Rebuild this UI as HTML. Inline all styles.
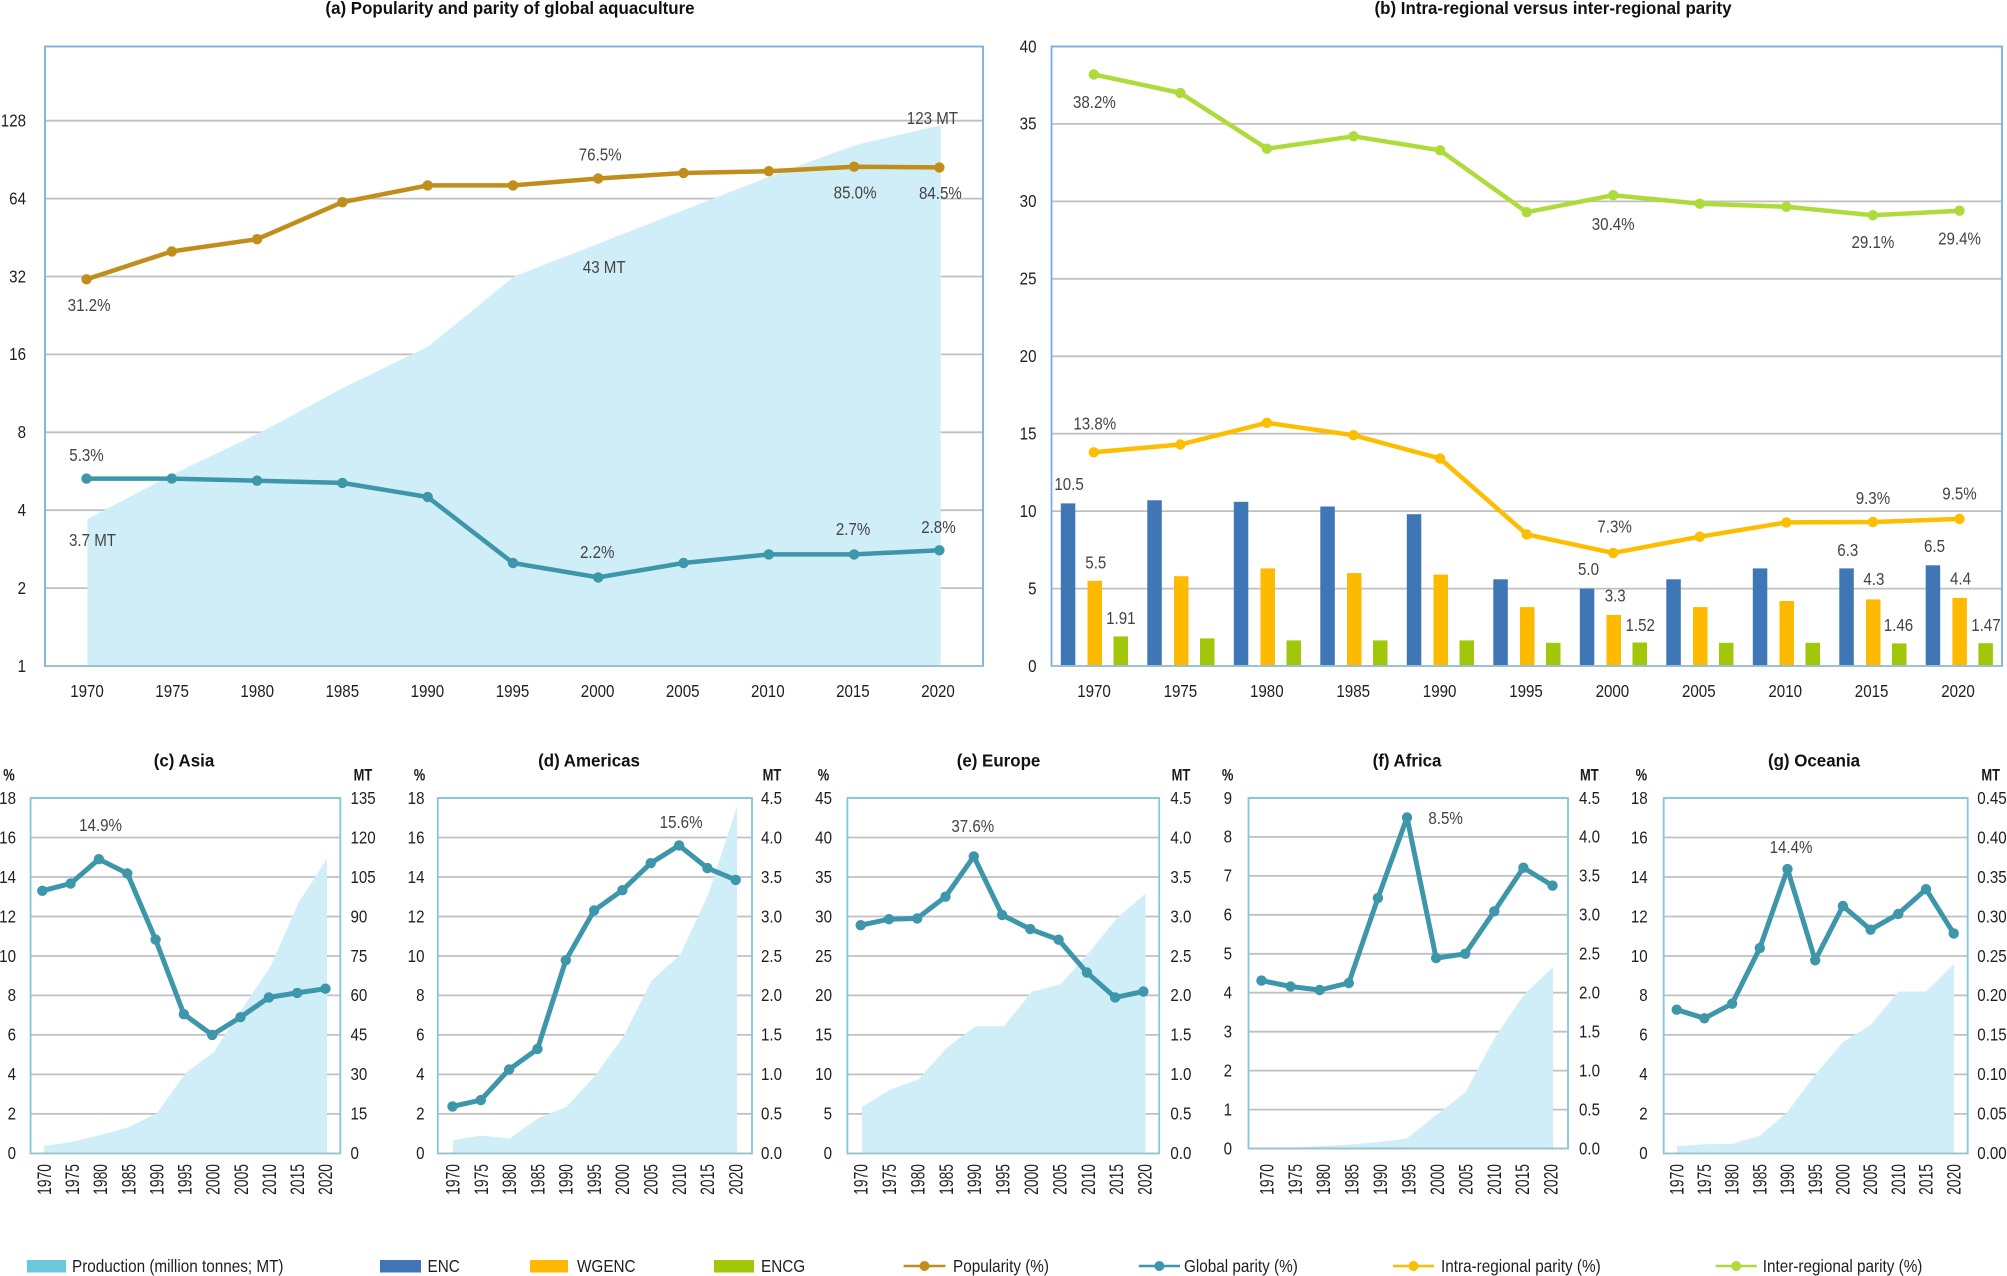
<!DOCTYPE html>
<html lang="en">
<head>
<meta charset="utf-8">
<title>Popularity and parity of aquaculture</title>
<style>
html,body{margin:0;padding:0;background:#fff;}
svg{display:block;font-family:"Liberation Sans",Arial,sans-serif;}
text{fill:#1f1f1f;font-size:18px;}
.val{fill:#444;}
.ttl{font-weight:bold;font-size:18px;fill:#111;}
.unit{font-weight:bold;font-size:17px;fill:#1a1a1a;}
.rot{font-size:19px;}
</style>
</head>
<body>
<svg id="chart" xmlns="http://www.w3.org/2000/svg" width="2007" height="1276" viewBox="0 0 2007 1276"></svg>
<script>
/* ---------- shared categories ---------- */
const years = [1970,1975,1980,1985,1990,1995,2000,2005,2010,2015,2020];

/* ---------- panel (a) ---------- */
const ticksA = [1,2,4,8,16,32,64,128];
const popularity = [31.2,40,44.6,62,72,72,76.5,80.4,81.7,85.0,84.5];
const globalParity = [5.3,5.3,5.2,5.1,4.5,2.5,2.2,2.5,2.7,2.7,2.8];
const globalProduction = [3.7,5.5,7.9,11.9,17.2,32,43,58,78,103,123];

/* ---------- panel (b) ---------- */
const ticksB = [0,5,10,15,20,25,30,35,40];
const enc = [10.5,10.7,10.6,10.3,9.8,5.6,5.0,5.6,6.3,6.3,6.5];
const wgenc = [5.5,5.8,6.3,6.0,5.9,3.8,3.3,3.8,4.2,4.3,4.4];
const encg = [1.91,1.78,1.65,1.65,1.65,1.5,1.52,1.5,1.5,1.46,1.47];
const intraParity = [13.8,14.3,15.7,14.9,13.4,8.5,7.3,8.35,9.27,9.3,9.5];
const interParity = [38.2,37.0,33.4,34.2,33.3,29.3,30.4,29.85,29.65,29.1,29.4];

/* ---------- regional panels ---------- */
const ticksPct18 = [0,2,4,6,8,10,12,14,16,18];
const ticksPct45 = [0,5,10,15,20,25,30,35,40,45];
const ticksPct9 = [0,1,2,3,4,5,6,7,8,9];
const ticksMt135 = [0,15,30,45,60,75,90,105,120,135];
const ticksMt45 = [0.0,0.5,1.0,1.5,2.0,2.5,3.0,3.5,4.0,4.5];
const ticksMt045 = [0.00,0.05,0.10,0.15,0.20,0.25,0.30,0.35,0.40,0.45];

const asiaParity = [13.3,13.67,14.9,14.18,10.83,7.05,6.0,6.9,7.9,8.13,8.34];
const asiaProduction = [2.8,4.4,7,9.9,15.3,30.5,38.5,55,70.9,95.3,111.9];
const americasParity = [2.38,2.7,4.25,5.29,9.78,12.3,13.33,14.7,15.6,14.45,13.85];
const americasProduction = [0.17,0.225,0.19,0.445,0.59,0.98,1.48,2.19,2.515,3.29,4.39];
const europeParity = [28.9,29.66,29.75,32.5,37.6,30.2,28.4,27.06,22.9,19.75,20.5];
const europeProduction = [0.59,0.806,0.94,1.34,1.61,1.61,2.05,2.14,2.54,2.98,3.29];
const africaParity = [4.31,4.16,4.07,4.25,6.43,8.5,4.89,5.0,6.09,7.21,6.75];
const africaProduction = [0,0.01,0.03,0.05,0.08,0.13,0.43,0.72,1.42,1.97,2.33];
const oceaniaParity = [7.28,6.84,7.58,10.4,14.4,9.78,12.53,11.33,12.13,13.38,11.14];
const oceaniaProduction = [0.009,0.0115,0.012,0.0225,0.053,0.10,0.141,0.163,0.205,0.205,0.24];

/* ---------- colours ---------- */
const C = {
  area:'#D0EEF8', areaSwatch:'#6CC8DC', grid:'#C0C0C0',
  pop:'#C18E1C', glob:'#3D96A9', intra:'#FDBD00', inter:'#ADDB3A',
  enc:'#3F76B5', wgenc:'#FDBA00', encg:'#A2C70A',
  frameTop:'#79AEDD', frameSmall:'#7FC9DD', base:'#9CC3CC'
};
const SX = 0.84;      /* the reference type is horizontally condensed */
const SX_TITLE = 0.94;
const SX_UNIT = 0.76;
const SX_ROT = 0.73;

const svg = document.getElementById('chart');
const NS = 'http://www.w3.org/2000/svg';

function mk(tag, attrs, name, parent, txt){
  const el = document.createElementNS(NS, tag);
  for (const k in attrs) el.setAttribute(k, attrs[k]);
  
  
  if (txt !== undefined) el.textContent = txt;
  (parent || svg).appendChild(el);
  return el;
}
function label(x, y, anchor, str, name, parent, cls, sx){
  const attrs = {x:0, y:0, 'text-anchor':anchor, transform:'translate(' + x.toFixed(1) + ',' + y.toFixed(1) + ') scale(' + (sx || SX) + ',1)'};
  if (cls) attrs['class'] = cls;
  return mk('text', attrs, name, parent, str);
}

/* axis functions */
function bandX(first, last){ return i => first + (last - first) * i / (years.length - 1); }
function linY(bottom, top, max){ return v => bottom - (bottom - top) * v / max; }
function logY(bottom, unit){ return v => bottom - unit * Math.log2(v); }

function poly(group, xf, yf, values, colour, name, sw){
  const pts = values.map((v,i) => xf(i).toFixed(1) + ',' + yf(v).toFixed(1)).join(' ');
  mk('polyline', {points:pts, fill:'none', stroke:colour, 'stroke-width':sw, 'stroke-linejoin':'round'}, name + '-line', group);
  values.forEach((v,i) => {
    mk('circle', {cx:xf(i).toFixed(1), cy:yf(v).toFixed(1), r:5.2, fill:colour}, name + '-point-' + years[i], group);
  });
}
function area(group, xf, yf, values, base, name){
  const pts = values.map((v,i) => xf(i).toFixed(1) + ',' + yf(v).toFixed(1));
  pts.unshift(xf(0).toFixed(1) + ',' + base);
  pts.push(xf(values.length - 1).toFixed(1) + ',' + base);
  mk('polygon', {points:pts.join(' '), fill:C.area}, name, group);
}
function grid(group, x0, x1, yf, ticks, base){
  ticks.forEach(t => {
    const y = yf(t);
    if (Math.abs(y - base) < 1) return;
    mk('line', {x1:x0, x2:x1, y1:y.toFixed(1), y2:y.toFixed(1), stroke:C.grid, 'stroke-width':1.8}, 'gridline-' + t, group);
  });
}
function frame(group, x0, x1, top, base, colour){
  mk('rect', {x:x0, y:top, width:x1 - x0, height:base - top, fill:'none', stroke:colour, 'stroke-width':1.8}, 'plot-frame', group);
  mk('line', {x1:x0, x2:x1, y1:base, y2:base, stroke:C.base, 'stroke-width':1.8}, 'x-axis-line', group);
}
function yTicks(group, xPos, anchor, yf, ticks, digits, name){
  ticks.forEach(t => {
    label(xPos, yf(t) + 5.8, anchor, t.toFixed(digits), name + '-tick-' + t, group);
  });
}
function xTicksFlat(group, xf, baseline){
  years.forEach((yr,i) => {
    label(xf(i), baseline, 'middle', yr, 'x-tick-' + yr, group);
  });
}
function xTicksRot(group, xf, topY){
  years.forEach((yr,i) => {
    const x = xf(i) + 6.6;
    mk('text', {x:0, y:0, 'text-anchor':'end', 'class':'rot', transform:'translate(' + x.toFixed(1) + ',' + topY + ') rotate(-90) scale(' + SX_ROT + ',1)'}, 'x-tick-' + yr, group, yr);
  });
}
/* value labels hang off the data point they describe */
function valueLabel(group, px, py, text, dx, dy, name){
  label(px + dx, py + dy + 0.8, 'middle', text, name, group, 'val');
}

/* ================= PANEL A ================= */
(function(){
  const g = mk('g', {}, 'panel-a-global-popularity-parity');
  const L = 45, R = 983, T = 46.5, B = 666;
  const x = bandX(86.5, 939.4);
  const xArea = bandX(87.4, 940.7);
  const xLab = bandX(87, 938);
  const y = logY(B, 77.9);
  label(510, 14, 'middle', '(a) Popularity and parity of global aquaculture', 'panel-a-title', g, 'ttl', SX_TITLE);
  grid(g, L, R, y, ticksA, B);
  area(g, xArea, y, globalProduction, B, 'production-area');
  frame(g, L, R, T, B, C.frameTop);
  yTicks(g, 26, 'end', y, ticksA, 0, 'y-axis');
  xTicksFlat(g, xLab, 697);
  poly(g, x, y, popularity, C.pop, 'popularity', 4.5);
  poly(g, x, y, globalParity, C.glob, 'global-parity', 4.5);
  const pct = v => v.toFixed(1) + '%';
  valueLabel(g, x(0), y(popularity[0]), pct(popularity[0]), 2.6, 31, 'popularity-label-1970');
  valueLabel(g, x(6), y(popularity[6]), pct(popularity[6]), 2, -18.6, 'popularity-label-2000');
  valueLabel(g, x(9), y(popularity[9]), pct(popularity[9]), 1, 31, 'popularity-label-2015');
  valueLabel(g, x(10), y(popularity[10]), pct(popularity[10]), 1, 30.6, 'popularity-label-2020');
  valueLabel(g, x(10), y(globalProduction[10]), globalProduction[10].toFixed(0) + ' MT', -7, -2, 'production-label-2020');
  valueLabel(g, x(6), y(globalProduction[6]), globalProduction[6].toFixed(0) + ' MT', 6, 29, 'production-label-2000');
  valueLabel(g, x(0), y(globalProduction[0]), globalProduction[0].toFixed(1) + ' MT', 6, 26, 'production-label-1970');
  valueLabel(g, x(0), y(globalParity[0]), pct(globalParity[0]), 0, -18.6, 'global-parity-label-1970');
  valueLabel(g, x(6), y(globalParity[6]), pct(globalParity[6]), -1, -20, 'global-parity-label-2000');
  valueLabel(g, x(9), y(globalParity[9]), pct(globalParity[9]), -1, -20, 'global-parity-label-2015');
  valueLabel(g, x(10), y(globalParity[10]), pct(globalParity[10]), -1, -18, 'global-parity-label-2020');
})();

/* ================= PANEL B ================= */
(function(){
  const g = mk('g', {}, 'panel-b-intra-inter-regional-parity');
  const L = 1051.5, R = 2002, T = 46.5, B = 666;
  const x = bandX(1093.8, 1959.5);
  const xBar = bandX(1093.8, 1958.7);
  const xLab = bandX(1094, 1958);
  const y = linY(B, T, 40);
  label(1553, 14, 'middle', '(b) Intra-regional versus inter-regional parity', 'panel-b-title', g, 'ttl', SX_TITLE);
  grid(g, L, R, y, ticksB, B);
  const BW = 14.5;
  const barSet = (vals, off, col, name) => vals.forEach((v,i) => {
    mk('rect', {x:(xBar(i) + off - BW/2).toFixed(1), y:y(v).toFixed(1), width:BW, height:(B - y(v)).toFixed(1), fill:col}, 'bar-' + name + '-' + years[i], g);
  });
  barSet(enc, -25.7, C.enc, 'enc');
  barSet(wgenc, 1, C.wgenc, 'wgenc');
  barSet(encg, 27, C.encg, 'encg');
  frame(g, L, R, T, B, C.frameTop);
  yTicks(g, 1036.5, 'end', y, ticksB, 0, 'y-axis');
  xTicksFlat(g, xLab, 697);
  poly(g, x, y, intraParity, C.intra, 'intra-regional-parity', 4.5);
  poly(g, x, y, interParity, C.inter, 'inter-regional-parity', 4.5);
  const pct = v => v.toFixed(1) + '%';
  valueLabel(g, x(0), y(interParity[0]), pct(interParity[0]), 0.6, 33, 'inter-label-1970');
  valueLabel(g, x(6), y(interParity[6]), pct(interParity[6]), 0, 34, 'inter-label-2000');
  valueLabel(g, x(9), y(interParity[9]), pct(interParity[9]), 0, 32, 'inter-label-2015');
  valueLabel(g, x(10), y(interParity[10]), pct(interParity[10]), 0, 33, 'inter-label-2020');
  valueLabel(g, x(0), y(intraParity[0]), pct(intraParity[0]), 1, -23.6, 'intra-label-1970');
  valueLabel(g, x(6), y(intraParity[6]), pct(intraParity[6]), 1.4, -21, 'intra-label-2000');
  valueLabel(g, x(9), y(intraParity[9]), pct(intraParity[9]), 0, -19, 'intra-label-2015');
  valueLabel(g, x(10), y(intraParity[10]), pct(intraParity[10]), 0, -20, 'intra-label-2020');
  const barLabel = (vals, i, off, digits, dx, dy, name) => valueLabel(g, x(i) + off, y(vals[i]), vals[i].toFixed(digits), dx, dy, name);
  barLabel(enc, 0, -25.7, 1, 1, -14, 'enc-label-1970');
  barLabel(wgenc, 0, 1, 1, 1, -13, 'wgenc-label-1970');
  barLabel(encg, 0, 27, 2, 0, -13, 'encg-label-1970');
  barLabel(enc, 6, -25.7, 1, 1, -14.5, 'enc-label-2000');
  barLabel(wgenc, 6, 1, 1, 1, -14, 'wgenc-label-2000');
  barLabel(encg, 6, 27, 2, 0, -12.5, 'encg-label-2000');
  barLabel(enc, 9, -25.7, 1, 0.6, -13, 'enc-label-2015');
  barLabel(wgenc, 9, 1, 1, 0, -15, 'wgenc-label-2015');
  barLabel(encg, 9, 27, 2, -1.4, -13, 'encg-label-2015');
  barLabel(enc, 10, -25.7, 1, 0.7, -14, 'enc-label-2020');
  barLabel(wgenc, 10, 1, 1, 0, -14, 'wgenc-label-2020');
  barLabel(encg, 10, 27, 2, -0.6, -13, 'encg-label-2020');
})();

/* ================= REGIONAL PANELS ================= */
function regional(o){
  const g = mk('g', {}, o.name);
  const T = 798;
  const yL = linY(o.B, T, o.leftTicks[o.leftTicks.length - 1]);
  const yR = linY(o.B, T, o.rightTicks[o.rightTicks.length - 1]);
  const x = bandX(o.first, o.last);
  const xArea = bandX(o.aFirst, o.aLast);
  const xLab = bandX(o.lFirst, o.lLast);
  label(o.titleX, 766.5, 'middle', o.title, o.name + '-title', g, 'ttl', SX_TITLE);
  label(o.pctX, 780.5, 'middle', '%', 'left-axis-unit', g, 'unit', SX_UNIT);
  label(o.mtX, 780.5, 'middle', 'MT', 'right-axis-unit', g, 'unit', SX_UNIT);
  grid(g, o.L, o.R, yL, o.leftTicks, o.B);
  area(g, xArea, yR, o.production, o.B, 'production-area');
  frame(g, o.L, o.R, T, o.B, C.frameSmall);
  yTicks(g, o.leftX, 'end', yL, o.leftTicks, 0, 'left-axis');
  yTicks(g, o.rightX, 'start', yR, o.rightTicks, o.rightDigits, 'right-axis');
  xTicksRot(g, xLab, 1164);
  poly(g, x, yL, o.parity, C.glob, 'parity', 5);
  valueLabel(g, x(o.peak), yL(o.parity[o.peak]), o.parity[o.peak].toFixed(1) + '%', o.dx, o.dy, 'parity-peak-label');
}
regional({name:'panel-c-asia', title:'(c) Asia', titleX:184, pctX:9, mtX:363, L:30.6, R:340.3, B:1153.4,
  first:42.3, last:325.5, aFirst:43.9, aLast:327, lFirst:44.4, lLast:325.5, leftX:16, rightX:350.5, rightDigits:0,
  leftTicks:ticksPct18, rightTicks:ticksMt135, parity:asiaParity, production:asiaProduction, peak:2, dx:1.6, dy:-29});
regional({name:'panel-d-americas', title:'(d) Americas', titleX:589, pctX:419.5, mtX:772, L:437.8, R:752, B:1153.4,
  first:452.5, last:735.7, aFirst:453, aLast:737, lFirst:453, lLast:735.7, leftX:424.5, rightX:761, rightDigits:1,
  leftTicks:ticksPct18, rightTicks:ticksMt45, parity:americasParity, production:americasProduction, peak:8, dx:2, dy:-18});
regional({name:'panel-e-europe', title:'(e) Europe', titleX:998.5, pctX:823.5, mtX:1181, L:847.4, R:1159.2, B:1153.4,
  first:860.7, last:1143.4, aFirst:862, aLast:1145.5, lFirst:861, lLast:1145, leftX:832, rightX:1170.4, rightDigits:1,
  leftTicks:ticksPct45, rightTicks:ticksMt45, parity:europeParity, production:europeProduction, peak:4, dx:-1, dy:-25});
regional({name:'panel-f-africa', title:'(f) Africa', titleX:1407, pctX:1227.6, mtX:1589.3, L:1248.5, R:1568, B:1148.5,
  first:1261.5, last:1552.5, aFirst:1261, aLast:1553, lFirst:1266.8, lLast:1551, leftX:1232, rightX:1579, rightDigits:1,
  leftTicks:ticksPct9, rightTicks:ticksMt45, parity:africaParity, production:africaProduction, peak:5, dx:38.6, dy:5.5});
regional({name:'panel-g-oceania', title:'(g) Oceania', titleX:1814, pctX:1641.3, mtX:1990.7, L:1663.7, R:1967.7, B:1153.4,
  first:1676.7, last:1953.7, aFirst:1677, aLast:1954, lFirst:1676.7, lLast:1953.7, leftX:1647.7, rightX:1977.3, rightDigits:2,
  leftTicks:ticksPct18, rightTicks:ticksMt045, parity:oceaniaParity, production:oceaniaProduction, peak:4, dx:3.5, dy:-17});

/* ================= LEGEND ================= */
(function(){
  const g = mk('g', {}, 'legend');
  const sw = (x0, x1, col, text, tx) => {
    const e = mk('g', {}, 'legend-entry-' + text.split(' ')[0].toLowerCase(), g);
    mk('rect', {x:x0, y:1260, width:x1 - x0, height:12.5, fill:col}, 'legend-swatch', e);
    label(tx, 1272, 'start', text, 'legend-label', e, null, 0.85);
  };
  const ln = (x0, x1, col, text, tx) => {
    const e = mk('g', {}, 'legend-entry-' + text.split(' ')[0].toLowerCase(), g);
    mk('line', {x1:x0, x2:x1, y1:1266, y2:1266, stroke:col, 'stroke-width':2.6}, 'legend-line', e);
    mk('circle', {cx:(x0 + x1)/2, cy:1266, r:5, fill:col}, 'legend-marker', e);
    label(tx, 1272, 'start', text, 'legend-label', e, null, 0.85);
  };
  sw(27, 66, C.areaSwatch, 'Production (million tonnes; MT)', 72);
  sw(380, 421, C.enc, 'ENC', 427.5);
  sw(530, 568, C.wgenc, 'WGENC', 577);
  sw(714, 754, C.encg, 'ENCG', 761);
  ln(903.6, 945.4, C.pop, 'Popularity (%)', 953);
  ln(1138.8, 1180, C.glob, 'Global parity (%)', 1184);
  ln(1393, 1434, C.intra, 'Intra-regional parity (%)', 1441);
  ln(1715.7, 1756.7, C.inter, 'Inter-regional parity (%)', 1762.7);
})();
</script>
</body>
</html>
